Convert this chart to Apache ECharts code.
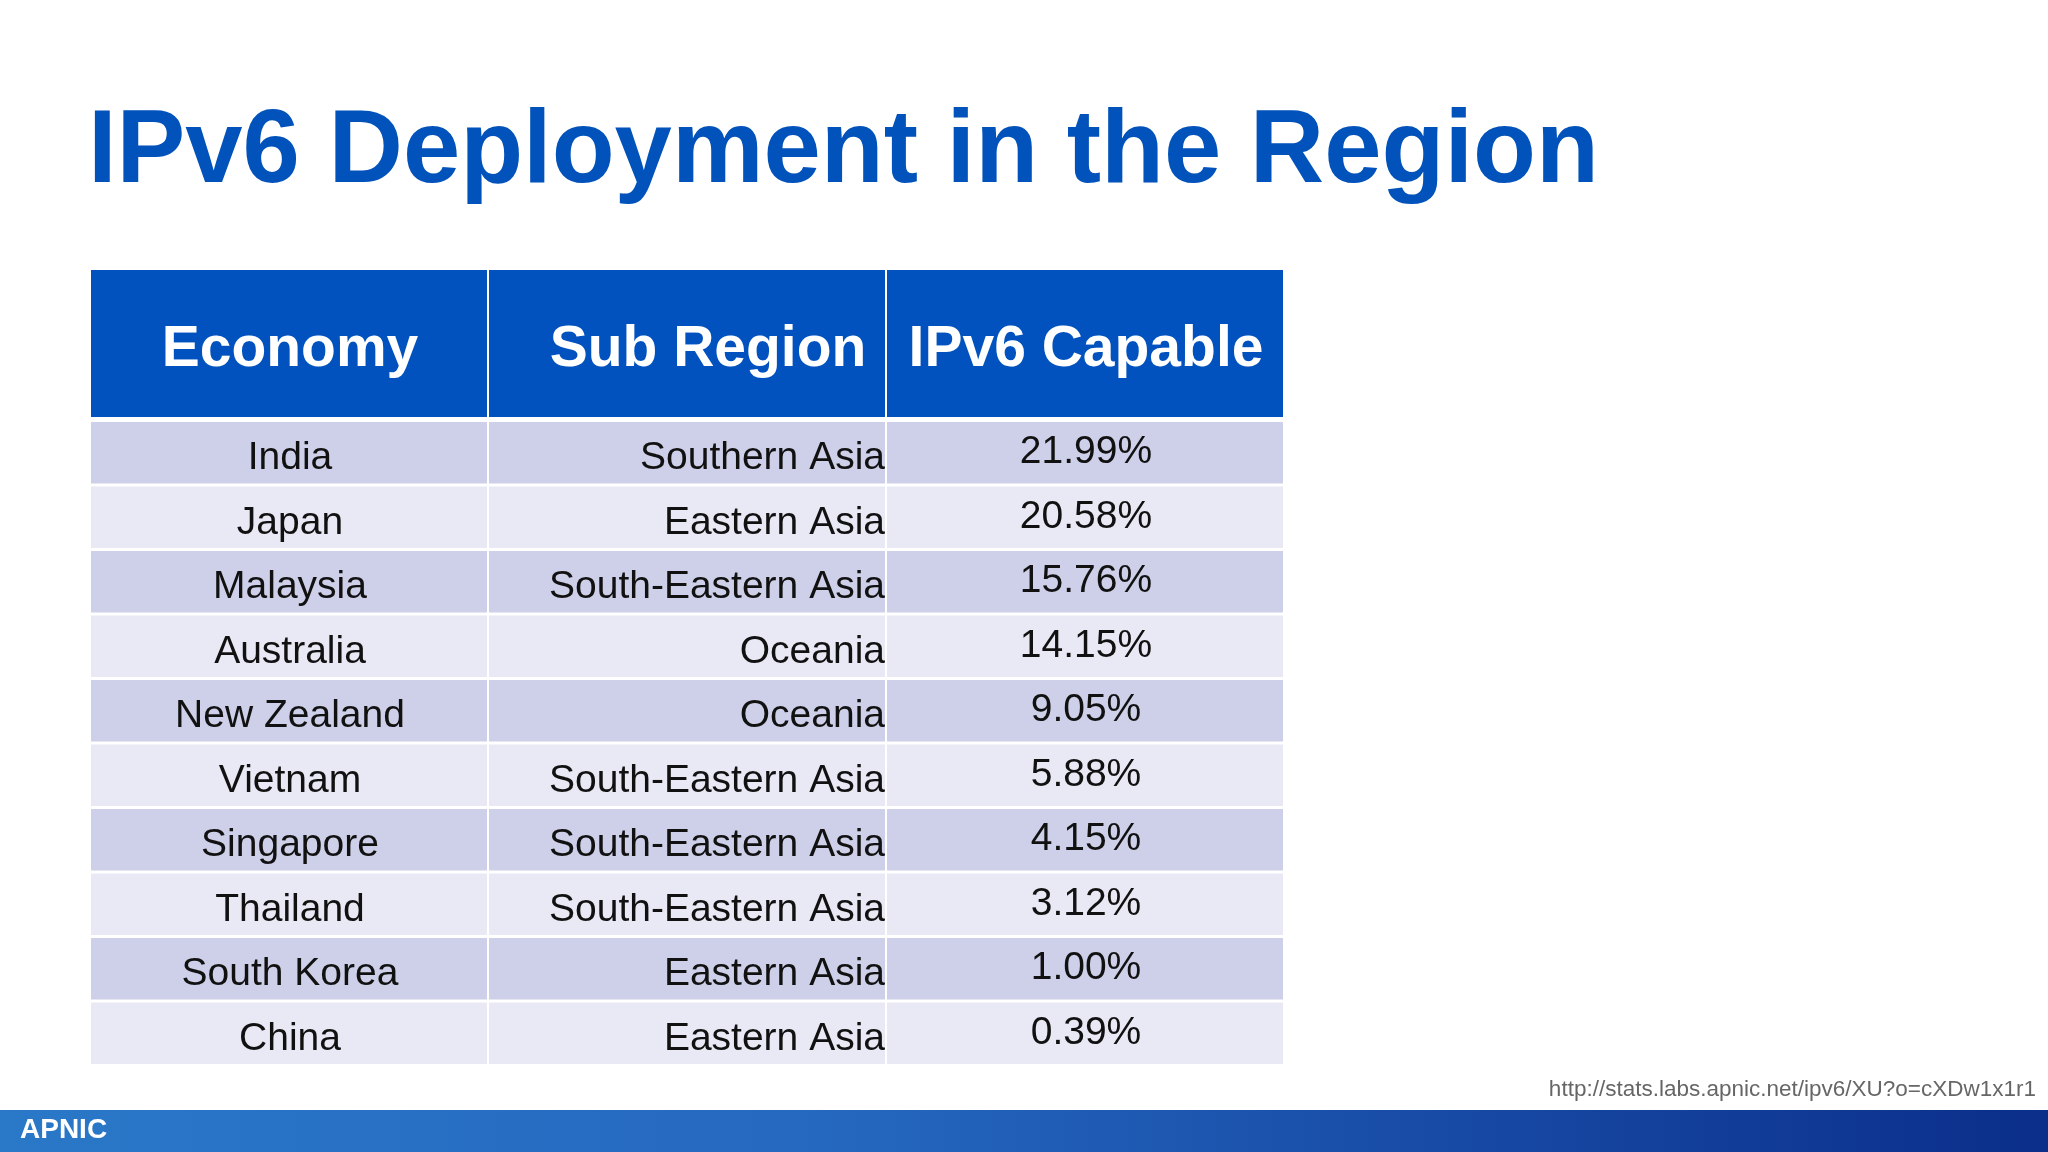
<!DOCTYPE html>
<html>
<head>
<meta charset="utf-8">
<script src="https://cdn.jsdelivr.net/npm/echarts@6/dist/echarts.min.js"></script>
<style>html,body{margin:0;background:#fff}#chart{width:2048px;height:1152px}</style>
</head>
<body>
<div id="chart"></div>
<script>
const headers = ['Economy', 'Sub Region', 'IPv6 Capable'];
const economies = ['India', 'Japan', 'Malaysia', 'Australia', 'New Zealand', 'Vietnam', 'Singapore', 'Thailand', 'South Korea', 'China'];
const subRegions = ['Southern Asia', 'Eastern Asia', 'South-Eastern Asia', 'Oceania', 'Oceania', 'South-Eastern Asia', 'South-Eastern Asia', 'South-Eastern Asia', 'Eastern Asia', 'Eastern Asia'];
const capable = [21.99, 20.58, 15.76, 14.15, 9.05, 5.88, 4.15, 3.12, 1.00, 0.39];

const cells = [];
economies.forEach((e, i) => {
    cells.push([0, i, e]);
    cells.push([1, i, subRegions[i]]);
    cells.push([2, i, capable[i].toFixed(2) + '%']);
});

const left = 91, colW = 398, tableW = colW * 3;

const chart = echarts.init(document.getElementById('chart'));
const option = {
    animation: false,
    grid: { left: left, top: 420, width: tableW, height: 645 },
    xAxis: { type: 'category', data: headers, show: false },
    yAxis: { type: 'category', data: economies, inverse: true, show: false },
    graphic: [
        { type: 'text', left: 88, top: 102, style: { text: 'IPv6 Deployment in the Region', fill: '#0152BA', font: 'bold 103px "Liberation Sans", Arial, sans-serif' } },
        ...headers.map((h, i) => ({
            type: 'group',
            children: [
                { type: 'rect', shape: { x: left + i * colW, y: 270, width: colW - 2, height: 147 }, style: { fill: '#0152BE' } },
                { type: 'text', x: left + i * colW + colW / 2 + (i === 1 ? 20 : 0), y: 350, style: { text: h, fill: '#fff', font: 'bold 57px "Liberation Sans", Arial, sans-serif', align: 'center', verticalAlign: 'middle' } }
            ]
        })),
        { type: 'rect', shape: { x: 0, y: 1110, width: 2048, height: 42 }, style: { fill: new echarts.graphic.LinearGradient(0, 0, 1, 0, [{ offset: 0, color: '#2A78C8' }, { offset: 0.4, color: '#2568C0' }, { offset: 1, color: '#0A2E8A' }]) } },
        { type: 'text', left: 20, top: 1116, style: { text: 'APNIC', fill: '#fff', font: 'bold 28px "Liberation Sans", Arial, sans-serif' } },
        { type: 'text', right: 12, top: 1078, style: { text: 'http://stats.labs.apnic.net/ipv6/XU?o=cXDw1x1r1', fill: '#666', font: '22.5px "Liberation Sans", Arial, sans-serif' } }
    ],
    series: [{
        type: 'custom',
        data: cells,
        renderItem: function (params, api) {
            const col = api.value(0), row = api.value(1);
            const c = api.coord([col, row]);
            const s = api.size([1, 1]);
            const x = c[0] - s[0] / 2, y = c[1] - s[1] / 2;
            const txt = cells[params.dataIndex][2];
            let tx = x + s[0] / 2, align = 'center', dy = 6;
            if (col === 1) { tx = x + s[0] - 2; align = 'right'; }
            if (col === 2) dy = 0;
            return {
                type: 'group',
                children: [
                    { type: 'rect', shape: { x: x, y: y + 2, width: s[0] - 2, height: s[1] - 3 }, style: { fill: row % 2 === 0 ? '#CDD0E8' : '#E8E9F4' } },
                    { type: 'text', x: tx, y: c[1] + dy, style: { text: txt, fill: '#111', font: '39px "Liberation Sans", Arial, sans-serif', align: align, verticalAlign: 'middle' } }
                ]
            };
        }
    }]
};
chart.setOption(option);
</script>
</body>
</html>
